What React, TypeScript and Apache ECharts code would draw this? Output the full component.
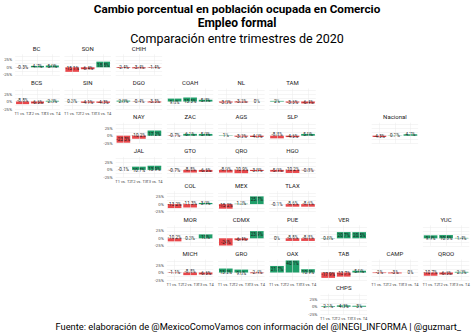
import React, { useEffect, useRef } from 'react';
import * as echarts from 'echarts';

const periods = ['T1 vs. T2', 'T2 vs. T3', 'T3 vs. T4'];
const states = ['BC', 'SON', 'CHIH', 'BCS', 'SIN', 'DGO', 'COAH', 'NL', 'TAM', 'NAY', 'ZAC', 'AGS', 'SLP', 'Nacional', 'JAL', 'GTO', 'QRO', 'HGO', 'COL', 'MEX', 'TLAX', 'MOR', 'CDMX', 'PUE', 'VER', 'YUC', 'MICH', 'GRO', 'OAX', 'TAB', 'CAMP', 'QROO', 'CHPS'];
const gridCols = [0, 1, 2, 0, 1, 2, 3, 4, 5, 2, 3, 4, 5, 7, 2, 3, 4, 5, 3, 4, 5, 3, 4, 5, 6, 8, 3, 4, 5, 6, 7, 8, 6];
const gridRows = [0, 0, 0, 1, 1, 1, 1, 1, 1, 2, 2, 2, 2, 2, 3, 3, 3, 3, 4, 4, 4, 5, 5, 5, 5, 5, 6, 6, 6, 6, 6, 6, 7];
const t1vsT2 = [-0.3, -15.1, -2.4, -8.8, 0.3, 2.8, 9.6, -3.5, 2, -23.3, -0.7, 1, -8.8, -4.3, -0.1, -0.7, -8.9, -5.9, -13.2, -15.2, -0.1, -10.2, -24, 0, 0.8, 9.9, -1.1, 13.2, 21.7, -17.9, -2, -10.7, 2.1];
const t2vsT3 = [4.7, -6.4, -3.4, -6.6, -4.1, -0.4, 13.3, -3.2, -3.6, -10.2, 6.1, -3.2, -4.6, 0.7, 10.7, -8.8, -10.9, -10.2, -11.3, 1.2, -8.6, 0.3, -6.4, -8.8, 20.7, 10.8, -8.8, 9.6, 40.1, -13.7, -3, -6.6, 4.3];
const t3vsT4 = [5.9, 18.8, -1.4, 2.3, -4.3, -3.3, 5.8, 0, -6.4, 17.2, 5.9, -4.2, 5.9, 4.7, 13.9, -6.6, -3.8, -0.8, 3.9, 25.7, -8.6, 13, 23.9, -8.8, 20.5, 1.4, -6.6, -2.4, 10.9, 5.9, 0, 2.2, 3];
const yTickLabels = [-25, 0, 25];

const RED = '#e8474b';
const GREEN = '#1f9e69';
const FONT = 'Roboto';

export default function App() {
  const ref = useRef<HTMLDivElement>(null);
  useEffect(() => {
    const chart = echarts.init(ref.current!, null, { renderer: 'svg' });
    const grids: any[] = [];
    const xAxes: any[] = [];
    const yAxes: any[] = [];
    const series: any[] = [];
    const graphics: any[] = [];
    const fmt = (v: number) => `${v}%`;

    states.forEach((st, i) => {
      const c = gridCols[i];
      const r = gridRows[i];
      const zero = 67.3 + 34.2 * r;
      const center = 36.5 + 51.2 * c;
      grids.push({ left: center - 23.25, top: zero - 15, width: 46.5, height: 22.5 });
      const firstInRow = !states.some((_, j) => gridRows[j] === r && gridCols[j] < c);
      const lastInCol = !states.some((_, j) => gridCols[j] === c && gridRows[j] > r);
      xAxes.push({
        type: 'category', gridIndex: i, data: periods,
        axisLine: { show: false }, axisTick: { show: false },
        splitLine: { show: false },
        axisLabel: { show: lastInCol, interval: 0, fontSize: 4.0, color: '#4d4d4d', margin: 2, fontFamily: FONT },
      });
      yAxes.push({
        type: 'value', gridIndex: i, min: -25, max: 50, interval: 12.5,
        axisLine: { show: false }, axisTick: { show: false },
        splitLine: { show: true, showMinLine: true, showMaxLine: false, lineStyle: { color: '#ebebeb', width: 0.5 } },
        axisLabel: {
          show: firstInRow, fontSize: 4.3, color: '#4d4d4d', margin: 3, fontFamily: FONT,
          formatter: (v: number) => (yTickLabels.includes(v) ? `${v}%` : ''),
        },
      });
      const vals = [t1vsT2[i], t2vsT3[i], t3vsT4[i]];
      series.push({
        type: 'bar', xAxisIndex: i, yAxisIndex: i, barCategoryGap: '12%',
        data: vals.map((v) => ({
          value: v,
          itemStyle: { color: v >= 0 ? GREEN : RED },
          label: {
            show: true,
            position: Math.abs(v) < 8 ? 'inside' : v >= 0 ? 'insideTop' : 'insideBottom',
            formatter: fmt(v), fontSize: 4.6, color: '#1a1a1a', fontFamily: FONT, distance: 1,
          },
        })),
        markLine: {
          silent: true, symbol: 'none', label: { show: false },
          lineStyle: { color: '#ebebeb', width: 0.5, type: 'solid' },
          data: periods.map((p) => [{ coord: [p, -25] }, { coord: [p, 43.3] }]),
        },
        z: 3,
      });
      graphics.push({
        type: 'text', x: center, y: zero - 19,
        style: { text: st, fontSize: 6, fill: '#1a1a1a', textAlign: 'center', textVerticalAlign: 'middle', fontFamily: FONT },
      });
    });

    graphics.push({
      type: 'text', x: 237, y: 9,
      style: { text: 'Cambio porcentual en población ocupada en Comercio', fontSize: 11.7, fontWeight: 'bold', fill: '#000', textAlign: 'center', textVerticalAlign: 'middle', fontFamily: FONT },
    });
    graphics.push({
      type: 'text', x: 237, y: 23,
      style: { text: 'Empleo formal', fontSize: 12, fontWeight: 'bold', fill: '#000', textAlign: 'center', textVerticalAlign: 'middle', fontFamily: FONT },
    });
    graphics.push({
      type: 'text', x: 237, y: 38,
      style: { text: 'Comparación entre trimestres de 2020', fontSize: 12.5, fill: '#000', textAlign: 'center', textVerticalAlign: 'middle', fontFamily: FONT },
    });
    graphics.push({
      type: 'text', x: 461, y: 326,
      style: { text: 'Fuente: elaboración de @MexicoComoVamos con información del @INEGI_INFORMA | @guzmart_', fontSize: 9.3, fill: '#000', textAlign: 'right', textVerticalAlign: 'middle', fontFamily: FONT },
    });

    chart.setOption({
      animation: false,
      backgroundColor: '#ffffff',
      grid: grids, xAxis: xAxes, yAxis: yAxes, series,
      graphic: graphics,
    });
    return () => chart.dispose();
  }, []);
  return <div ref={ref} style={{ width: 474, height: 334, position: 'absolute', left: 0, top: 0 }} />;
}
